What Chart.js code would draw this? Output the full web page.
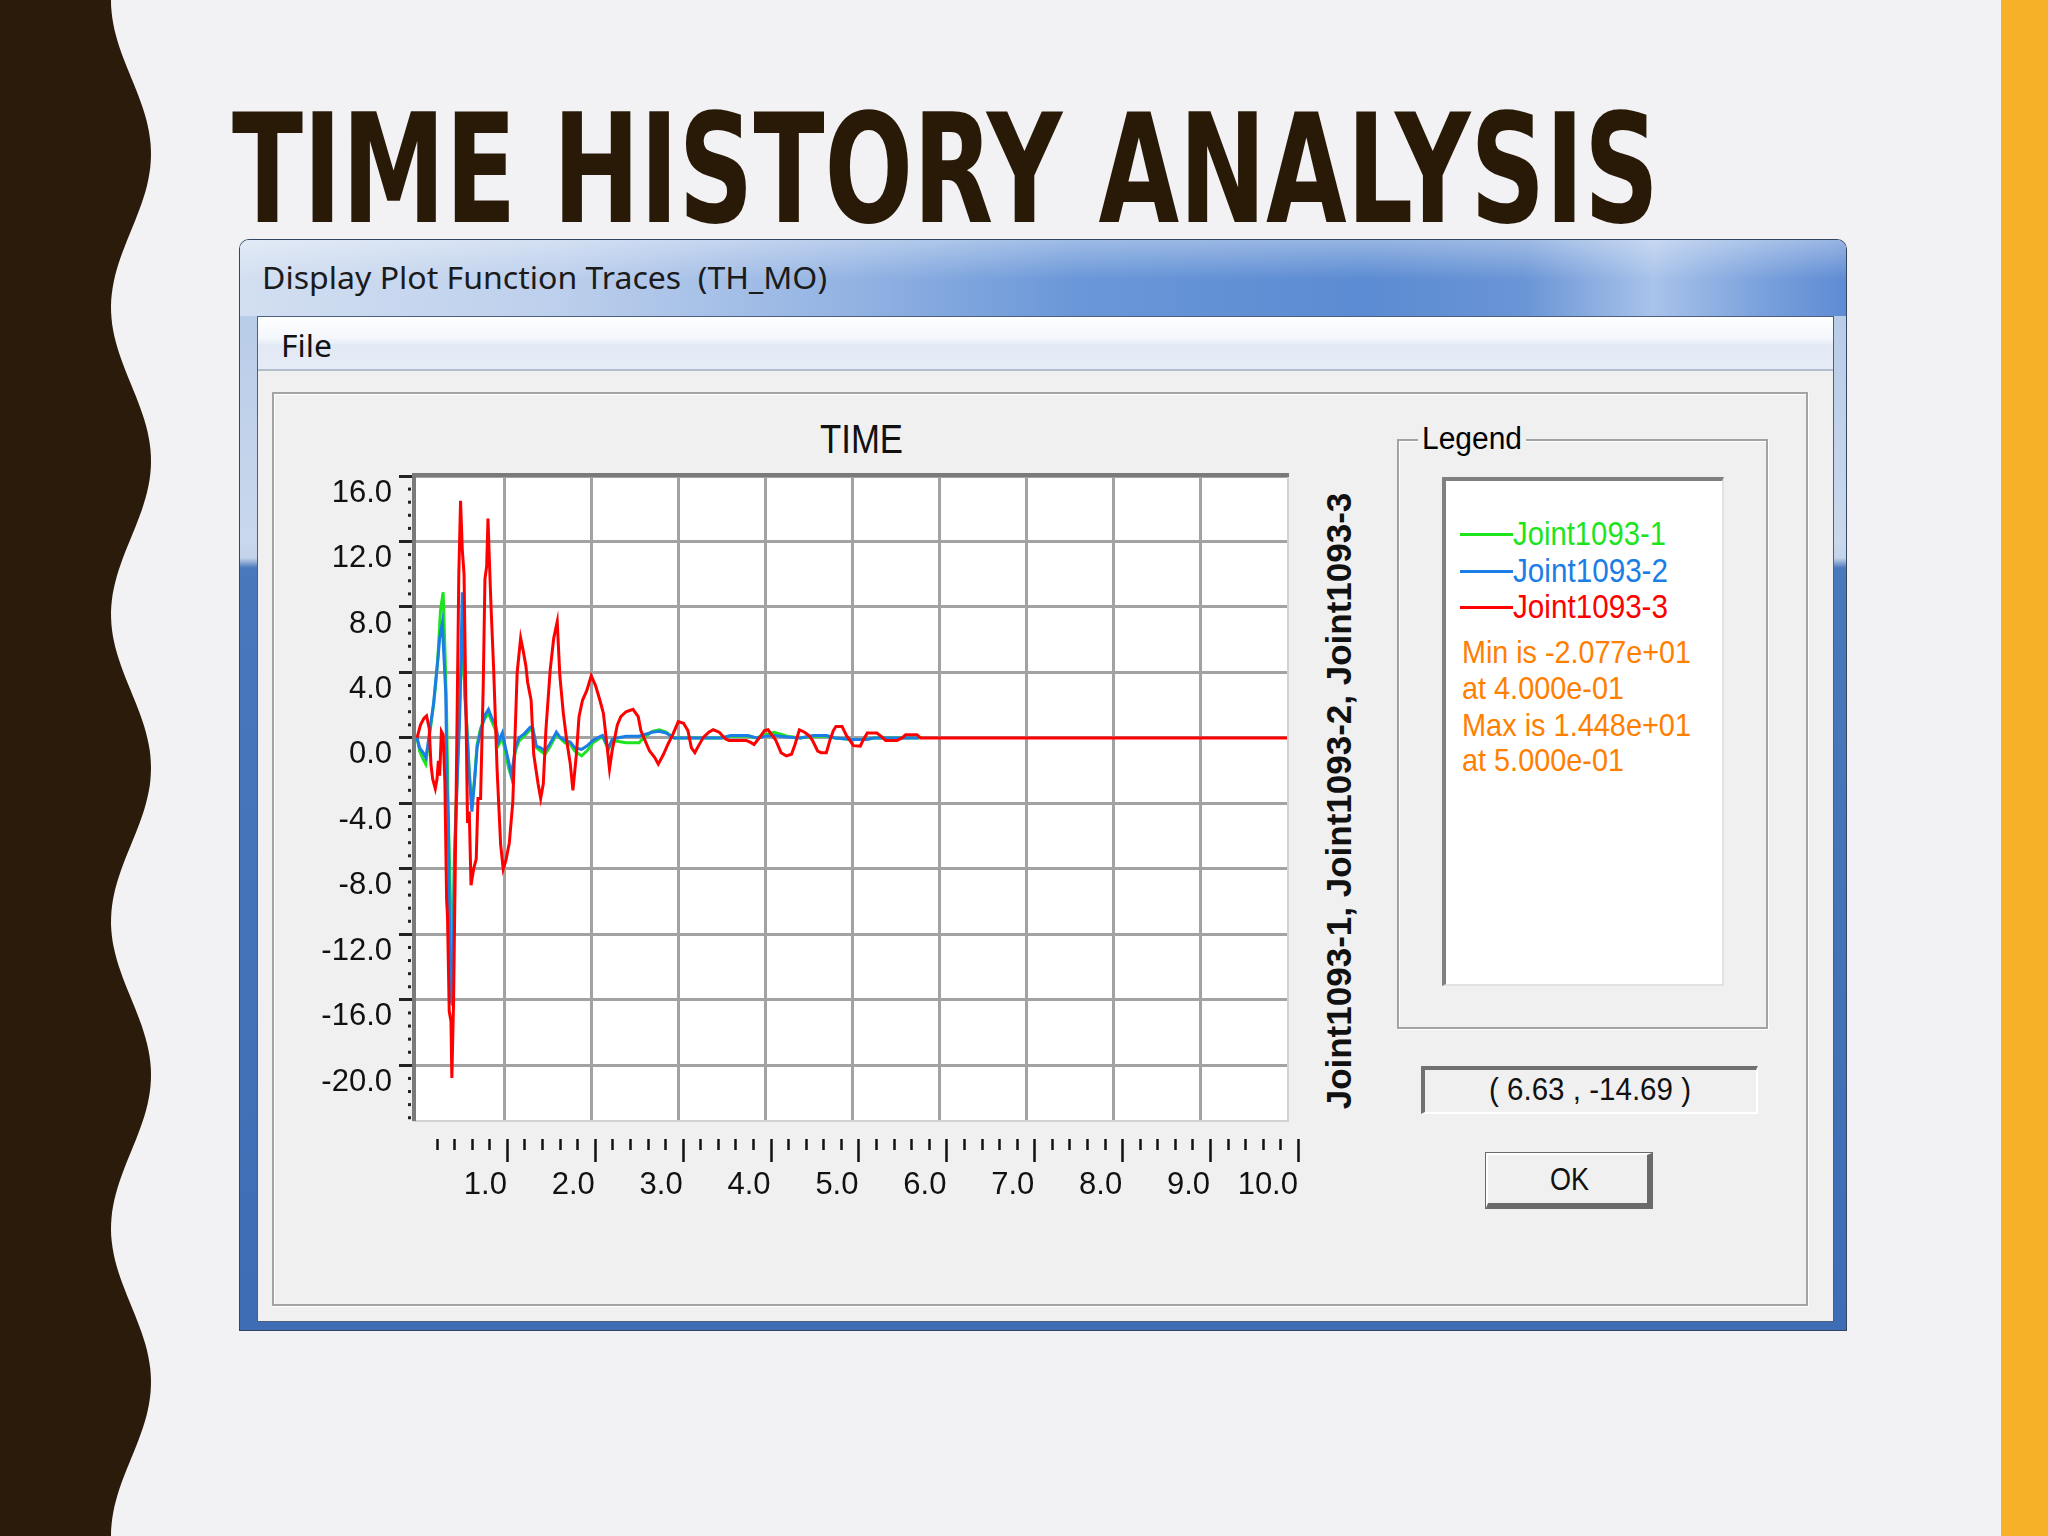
<!DOCTYPE html>
<html><head><meta charset="utf-8">
<script src="https://cdn.jsdelivr.net/npm/chart.js@4.4.0/dist/chart.umd.min.js"></script>
<style>
html,body{margin:0;padding:0;}
body{width:2048px;height:1536px;background:#f2f2f4;position:relative;overflow:hidden;font-family:"Liberation Sans",Arial,sans-serif;}
.abs{position:absolute;box-sizing:border-box;}
.fit{position:absolute;white-space:pre;height:40px;line-height:40px;transform-origin:0 50%;}
</style></head><body>
<svg class="abs" style="left:0;top:0" width="2048" height="1536">
  <path id="wave" fill="#2b1b0a"/>
  <rect x="2001" y="0" width="47" height="1536" fill="#f6b128"/>
  <text x="232" y="222" font-family="DejaVu Sans Condensed, DejaVu Sans" font-weight="bold" font-size="152" textLength="1427" lengthAdjust="spacingAndGlyphs" fill="#291a08">TIME HISTORY ANALYSIS</text>
</svg>

<!-- window frame -->
<div class="abs" style="left:240px;top:240px;width:1606px;height:1090px;border-radius:9px 9px 0 0;background:linear-gradient(#b3c8e7 0,#c9d8ec 300px,#c3d3ea 318px,#4a78bd 328px,#3f6db5 100%);box-shadow:0 0 0 1px #34465f;"></div>
<div class="abs" style="left:240px;top:240px;width:1606px;height:76px;border-radius:9px 9px 0 0;background:linear-gradient(90deg,#d3dff1 0%,#bccfec 20%,#93b3e3 38%,#6a97d8 52%,#5b8bd2 70%,#6a95d6 80%,#a9c3ea 88%,#79a0dc 95%,#5e8bd3 100%);"></div>
<div class="abs" style="left:240px;top:240px;width:1606px;height:40px;border-radius:9px 9px 0 0;background:linear-gradient(rgba(255,255,255,0.35),rgba(255,255,255,0));"></div>
<div class="fit" data-w="565" style="left:262px;top:258px;font-family:'Noto Sans','Open Sans',sans-serif;font-size:30px;color:#1b1b1b;">Display Plot Function Traces  (TH_MO)</div>

<!-- client -->
<div class="abs" style="left:257px;top:316px;width:1577px;height:1006px;background:#f0f0f0;border:1px solid #4d5f7c;"></div>
<div class="abs" style="left:258px;top:317px;width:1575px;height:54px;background:linear-gradient(#fdfeff 0%,#f4f7fc 40%,#e2e9f4 55%,#e6ecf6 100%);border-bottom:2px solid #b3bdcc;"></div>
<div class="fit" data-w="51" style="left:281px;top:326px;font-family:'Noto Sans','Open Sans',sans-serif;font-size:30px;color:#111;">File</div>

<!-- panel -->
<div class="abs" style="left:272px;top:392px;width:1536px;height:914px;border:2px solid #a3a3a3;box-shadow:inset 1px 1px 0 #fff,1px 1px 0 #fff;"></div>

<div class="fit" data-w="83" data-cx="861" style="left:820px;top:419px;font-size:40px;color:#111;">TIME</div>
<div class="abs" style="left:1339px;top:801px;transform:translate(-50%,-50%) rotate(-90deg);font-size:35px;font-weight:bold;color:#111;white-space:nowrap;">Joint1093-1, Joint1093-2, Joint1093-3</div>

<canvas id="c" class="abs" width="1040" height="760" style="left:300px;top:460px;"></canvas>

<!-- legend group -->
<div class="abs" style="left:1397px;top:439px;width:371px;height:590px;border:2px solid #a3a3a3;box-shadow:inset 1px 1px 0 #fff,1px 1px 0 #fff;"></div>
<div class="abs" style="left:1418px;top:422px;width:108px;height:34px;background:#f0f0f0;"></div>
<div class="fit" data-w="100" style="left:1422px;top:419px;font-size:31px;color:#000;">Legend</div>
<div class="abs" style="left:1442px;top:477px;width:282px;height:509px;background:#fff;border-style:solid;border-width:4px 2px 2px 4px;border-color:#808080 #e2e2e2 #e2e2e2 #808080;"></div>
<div id="legend"></div>

<div class="abs" style="left:1421px;top:1066px;width:337px;height:48px;border-style:solid;border-width:4px 2px 2px 4px;border-color:#707070 #fff #fff #707070;background:#f0f0f0;"></div>
<div class="fit" data-w="202" data-cx="1590" style="left:1489px;top:1069px;font-size:32px;color:#111;">( 6.63 , -14.69 )</div>
<div class="abs" style="left:1486px;top:1153px;width:166px;height:55px;border-style:solid;border-width:2px 5px 5px 2px;border-color:#fff #6a6a6a #6a6a6a #fff;outline:1px solid #6a6a6a;background:#f0f0f0;"></div>
<div class="fit" data-w="39" data-cx="1569" style="left:1550px;top:1159px;font-size:32px;color:#111;">OK</div>

<script>
// ---------- data ----------
const seriesNames = ['Joint1093-1','Joint1093-2','Joint1093-3'];
const seriesColors = ['#1ee41e','#1a7ee6','#ff0000'];

const tGreen = [0,0.03,0.07,0.10,0.12,0.15,0.19,0.215,0.24,0.27,0.30,0.32,0.34,0.355,0.37,0.39,0.41,0.43,0.47,0.49,0.52,0.55,0.57,0.60,0.63,0.66,0.69,0.73,0.78,0.82,0.86,0.90,0.94,0.98,1.02,1.05,1.085,1.13,1.17,1.23,1.30,1.33,1.37,1.42,1.47,1.52,1.56,1.60,1.64,1.70,1.76,1.81,1.89,1.95,2.02,2.09,2.13,2.18,2.20,2.24,2.30,2.40,2.55,2.60,2.70,2.78,2.86,2.95,3.10,3.50,3.60,3.80,3.90,4.00,4.10,4.25,4.40,4.55,4.70,4.80,5.00,5.15,5.25,5.76];
const vGreen = [0,-0.8,-1.3,-1.6,-0.8,0.4,2.0,3.3,5.0,7.8,8.9,5.5,1.5,-3.5,-7.0,-11.0,-13.6,-7.0,-1.0,2.0,5.8,3.0,1.0,-2.0,-4.2,-2.5,-0.4,0.6,1.2,1.5,1.0,0.5,-0.4,0,-1.0,-1.8,-2.4,-0.8,-0.2,0.1,0.5,0.45,-0.6,-0.8,-1.0,-0.6,-0.2,0.2,0,-0.3,-0.4,-0.8,-1.1,-0.8,-0.3,-0.05,0.1,-0.5,-0.7,-0.2,-0.2,-0.3,-0.3,0,0.4,0.5,0.35,0,0,0,0.1,0.1,0,0.2,0.35,0.1,0,0.1,0.1,0,-0.1,-0.1,0,0];

const tBlue = [0,0.03,0.07,0.10,0.12,0.15,0.19,0.215,0.24,0.26,0.29,0.31,0.33,0.345,0.36,0.37,0.39,0.41,0.43,0.47,0.49,0.52,0.55,0.57,0.60,0.63,0.66,0.69,0.73,0.78,0.82,0.86,0.90,0.94,0.98,1.02,1.05,1.085,1.13,1.17,1.23,1.30,1.33,1.37,1.42,1.47,1.52,1.56,1.60,1.64,1.70,1.76,1.81,1.89,1.95,2.02,2.09,2.13,2.18,2.20,2.24,2.30,2.40,2.55,2.70,2.78,2.86,2.95,3.10,3.50,3.60,3.80,3.90,4.00,4.10,4.25,4.40,4.55,4.70,4.80,5.00,5.15,5.25,5.76];
const vBlue = [0,-0.6,-0.9,-1.2,-0.6,0.6,2.1,3.5,4.8,6.1,7.0,4.9,2.7,-2.9,-5.2,-10.1,-16.1,-16.3,-7.4,-1.4,1.2,8.9,2.5,0.8,-2.3,-4.5,-2.7,-0.6,0.4,1.4,1.75,1.2,0.8,-0.2,0.3,-0.7,-1.4,-2.3,-0.6,0,0.25,0.65,0.6,-0.5,-0.6,-0.8,-0.4,-0.05,0.35,0.05,-0.15,-0.25,-0.6,-0.7,-0.5,-0.15,0.05,0.15,-0.4,-0.6,-0.1,0,0.1,0.1,0.35,0.4,0.3,0,0,0,0.15,0.15,0,0.1,0.15,0.05,0,0.15,0.15,0,-0.1,-0.1,0,0];

const tRed = [0,0.04,0.08,0.11,0.14,0.16,0.18,0.21,0.23,0.245,0.26,0.28,0.30,0.32,0.34,0.35,0.37,0.39,0.40,0.42,0.44,0.46,0.48,0.50,0.52,0.54,0.56,0.58,0.60,0.62,0.65,0.68,0.70,0.73,0.76,0.78,0.80,0.815,0.83,0.85,0.88,0.92,0.96,0.99,1.02,1.06,1.10,1.15,1.19,1.22,1.25,1.27,1.31,1.34,1.39,1.42,1.45,1.48,1.53,1.57,1.61,1.64,1.68,1.72,1.76,1.79,1.83,1.86,1.90,1.95,2.00,2.05,2.10,2.14,2.18,2.21,2.24,2.27,2.30,2.34,2.40,2.48,2.54,2.57,2.61,2.67,2.73,2.77,2.83,2.88,2.94,3.00,3.06,3.11,3.15,3.19,3.23,3.29,3.35,3.40,3.47,3.54,3.58,3.78,3.83,3.87,3.93,3.99,4.03,4.08,4.12,4.18,4.24,4.30,4.34,4.39,4.45,4.50,4.54,4.60,4.64,4.70,4.74,4.78,4.81,4.88,4.93,4.97,5.01,5.09,5.12,5.17,5.28,5.34,5.38,5.51,5.57,5.61,5.74,5.78,10.0];
const vRed = [0,0.8,1.2,1.35,0.6,-1.6,-2.5,-3.1,-2.5,-1.4,-2.3,0.4,0.2,-2.7,-9.9,-10.9,-16.7,-17.3,-20.77,-16.0,-7.6,1.2,10.0,14.48,11.5,10.0,2.5,-5.2,-4.5,-9.0,-8.0,-7.4,-3.7,-3.7,3.1,9.7,10.5,13.4,11.0,8.0,4.2,-2.0,-6.5,-8.0,-7.5,-6.4,-3.9,4.0,6.1,5.3,4.4,3.4,2.3,-1.0,-2.8,-3.7,-2.8,0.5,4.2,6.1,7.1,3.8,1.5,-0.2,-1.6,-3.2,-1.0,1.3,2.3,2.9,3.8,3.2,2.3,1.5,-0.4,-1.9,-0.8,0,0.8,1.3,1.6,1.75,1.3,0.45,-0.06,-0.8,-1.2,-1.6,-1.0,-0.4,0.25,1.0,0.9,0.45,-0.6,-0.9,-0.5,0.05,0.35,0.5,0.35,-0.05,-0.15,-0.15,-0.27,-0.4,0,0.45,0.5,0.15,-0.15,-0.9,-1.1,-1.0,-0.4,0.5,0.35,0.15,-0.15,-0.8,-0.9,-0.9,-0.15,0.45,0.7,0.7,0.15,-0.15,-0.47,-0.5,-0.15,0.3,0.3,0.05,-0.15,-0.15,0,0.2,0.2,0,0];

const yTickValues = [16,12,8,4,0,-4,-8,-12,-16,-20];
const xGridValues = [1,2,3,4,5,6,7,8,9];
const xTickLabels = ['1.0','2.0','3.0','4.0','5.0','6.0','7.0','8.0','9.0','10.0'];
const legendNotes = ['Min is -2.077e+01','at 4.000e-01','Max is 1.448e+01','at 5.000e-01'];

// ---------- decoration ----------
(function(){
  let d = 'M0,0';
  for (let y = 0; y <= 1536; y += 6) {
    const x = 131 + 20 * Math.cos(2 * Math.PI * (y - 154) / 307);
    d += ' L' + x.toFixed(1) + ',' + y;
  }
  d += ' L0,1536 Z';
  document.getElementById('wave').setAttribute('d', d);
})();

// ---------- legend ----------
(function(){
  const host = document.getElementById('legend');
  const rows = [534, 571, 607];
  const nameW = [153, 155, 155];
  seriesNames.forEach((n, i) => {
    const ln = document.createElement('div');
    ln.className = 'abs';
    ln.style.cssText = `left:1460px;top:${rows[i]-1}px;width:53px;height:3px;background:${seriesColors[i]};`;
    host.appendChild(ln);
    const tx = document.createElement('div');
    tx.className = 'fit';
    tx.dataset.w = nameW[i];
    tx.style.cssText = `left:1513px;top:${rows[i]-20}px;font-size:33px;color:${seriesColors[i]};`;
    tx.textContent = n;
    host.appendChild(tx);
  });
  const noteRows = [652, 688, 725, 760];
  const noteW = [229, 162, 229, 162];
  legendNotes.forEach((n, i) => {
    const tx = document.createElement('div');
    tx.className = 'fit';
    tx.dataset.w = noteW[i];
    tx.style.cssText = `left:1462px;top:${noteRows[i]-20}px;font-size:32px;color:#ff8000;`;
    tx.textContent = n;
    host.appendChild(tx);
  });
})();

// fit text widths
document.querySelectorAll('.fit').forEach(el => {
  const w = +el.dataset.w;
  const w0 = el.getBoundingClientRect().width;
  if (w0 > 0) el.style.transform = `scaleX(${w / w0})`;
  if (el.dataset.cx) el.style.left = (+el.dataset.cx - w / 2) + 'px';
});

// ---------- chart ----------
const tickFont = {family: '"Liberation Sans",Arial,sans-serif', size: 31};
const PANEL = '#f0f0f0';

function pts(t, v) { return t.map((x, i) => ({x: x, y: v[i]})); }

const framePlugin = {
  id: 'frame',
  beforeDraw(chart) {
    const {ctx, chartArea: a, scales} = chart;
    const pr = scales.x.getPixelForValue(10);
    ctx.save();
    ctx.fillStyle = '#ffffff';
    ctx.fillRect(a.left, a.top, pr - a.left, a.bottom - a.top);
    ctx.restore();
  },
  afterDatasetsDraw(chart) {
    const {ctx, chartArea: a, scales} = chart;
    const pr = scales.x.getPixelForValue(10);
    ctx.save();
    ctx.fillStyle = PANEL;
    ctx.fillRect(pr + 1, a.top - 4, a.right - pr + 10, a.bottom - a.top + 8);
    ctx.fillStyle = '#d2d2d2';
    ctx.fillRect(pr - 1, a.top, 2, a.bottom - a.top);
    ctx.fillRect(a.left, a.bottom - 1, pr - a.left + 1, 2);
    ctx.fillStyle = '#7a7a7a';
    ctx.fillRect(a.left - 1, a.top - 3, pr - a.left + 2, 4);
    ctx.fillRect(a.left - 1, a.top - 3, 4, a.bottom - a.top + 3);
    const y = scales.y;
    ctx.fillStyle = '#222';
    for (let k = 1; ; k++) {
      const v = 16 - 0.8 * k;
      if (v < y.min) break;
      if (k % 5 === 0) continue;
      const py = y.getPixelForValue(v);
      ctx.fillRect(a.left - 5, py - 1.5, 3, 3);
    }
    const x2 = scales.x2;
    const top = a.bottom + 18;
    ctx.strokeStyle = '#111';
    ctx.lineWidth = 2.5;
    x2.ticks.forEach(t => {
      const px = Math.round(x2.getPixelForValue(t.value)) + 0.5;
      const major = Math.abs(t.value - Math.round(t.value)) < 1e-6;
      ctx.beginPath();
      ctx.moveTo(px, top);
      ctx.lineTo(px, top + (major ? 23 : 11));
      ctx.stroke();
    });
    ctx.restore();
  }
};

new Chart(document.getElementById('c'), {
  type: 'line',
  data: {
    datasets: [
      {label: seriesNames[0], data: pts(tGreen, vGreen), borderColor: seriesColors[0], borderWidth: 3, pointRadius: 0, tension: 0, order: 3},
      {label: seriesNames[1], data: pts(tBlue, vBlue), borderColor: seriesColors[1], borderWidth: 3, pointRadius: 0, tension: 0, order: 2},
      {label: seriesNames[2], data: pts(tRed, vRed), borderColor: seriesColors[2], borderWidth: 3, pointRadius: 0, tension: 0, order: 1}
    ]
  },
  options: {
    responsive: false,
    animation: false,
    devicePixelRatio: 1,
    layout: {padding: {left: 0, top: 16, right: 40, bottom: 0}},
    plugins: {legend: {display: false}, tooltip: {enabled: false}, title: {display: false}},
    scales: {
      x: {
        type: 'linear', position: 'bottom', min: -0.046, max: 10.138, weight: 2,
        grid: {color: '#a2a2a2', lineWidth: 3, drawTicks: false, drawOnChartArea: true},
        border: {display: false},
        ticks: {display: false},
        afterBuildTicks(s) { s.ticks = xGridValues.map(v => ({value: v})); },
        afterFit(s) { s.height = 0; s.paddingLeft = 0; s.paddingRight = 0; }
      },
      x2: {
        type: 'linear', position: 'bottom', min: -0.068, max: 10.023, weight: 1,
        grid: {display: true, drawOnChartArea: false, drawTicks: true, tickLength: 40, tickColor: 'rgba(0,0,0,0)'},
        border: {display: false},
        ticks: {
          autoSkip: false, maxRotation: 0, minRotation: 0, align: 'end', padding: 6,
          font: tickFont, color: '#111',
          callback(val, idx, ticks) {
            const v = ticks[idx].value;
            const r = Math.round(v);
            return Math.abs(v - r) < 1e-6 && r >= 1 ? xTickLabels[r - 1] : '';
          }
        },
        afterBuildTicks(s) {
          const arr = [];
          for (let k = 1; k <= 50; k++) arr.push({value: Math.round(k * 0.2 * 1000) / 1000});
          s.ticks = arr;
        },
        afterFit(s) { s.height = 99; s.paddingLeft = 0; s.paddingRight = 0; }
      },
      y: {
        type: 'linear', position: 'left', min: -23.4, max: 16,
        grid: {color: '#a2a2a2', lineWidth: 3, drawTicks: true, tickLength: 14, tickColor: '#222', tickWidth: 3},
        border: {display: false},
        ticks: {font: tickFont, color: '#111', padding: 7, labelOffset: 17, callback: v => Number(v).toFixed(1)},
        afterBuildTicks(s) { s.ticks = yTickValues.map(v => ({value: v})); },
        afterFit(s) { s.width = 113; s.paddingTop = 0; s.paddingBottom = 0; }
      }
    }
  },
  plugins: [framePlugin]
});
</script>
</body></html>
